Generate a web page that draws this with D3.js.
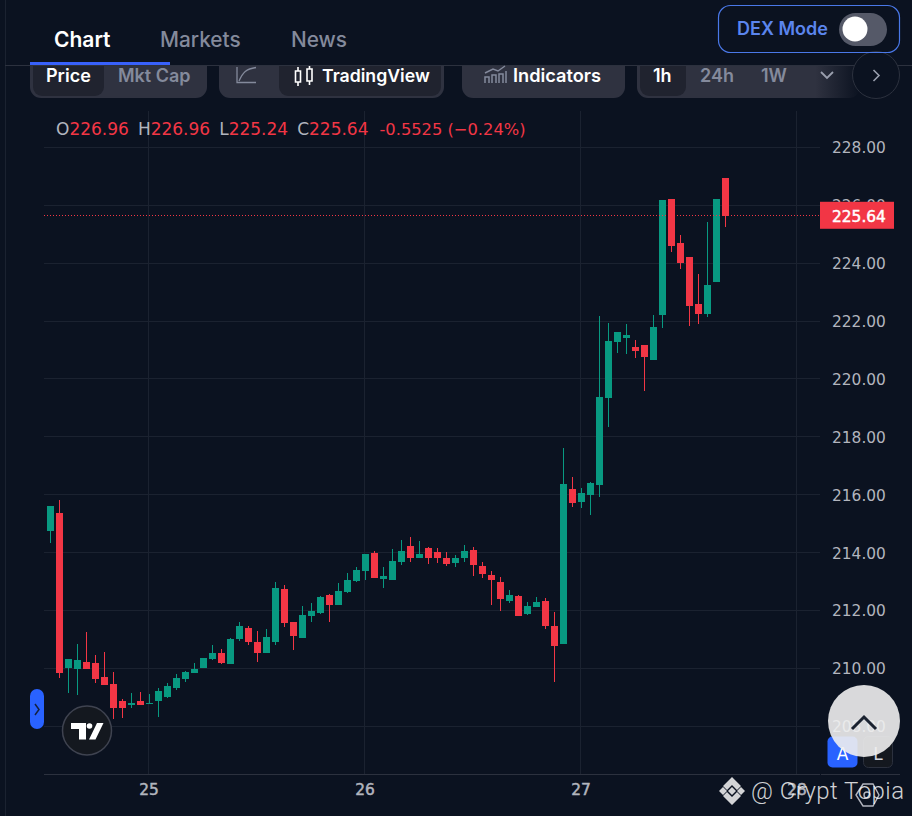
<!DOCTYPE html>
<html>
<head>
<meta charset="utf-8">
<script src="https://cdnjs.cloudflare.com/ajax/libs/d3/7.8.5/d3.min.js"></script>
<style>
  html, body { margin: 0; padding: 0; background: #0b1220; overflow: hidden; }
  svg { display: block; }
  .ui { font-family: Inter, sans-serif; }
  .axis-text { font-family: "DejaVu Sans", sans-serif; font-size: 15.4px; fill: #b2b5be; }
</style>
</head>
<body>
<div id="chart"></div>
<script>
// hourly candles
const opens = [214.74,215.37,210.01,209.97,210.22,210.18,209.70,209.46,208.87,208.73,208.87,208.78,208.87,209.01,209.32,209.63,209.84,210.01,210.32,210.53,210.15,211.01,211.39,210.91,210.53,210.91,212.74,211.60,211.05,211.81,211.91,212.53,212.19,212.64,213.02,213.36,213.98,213.09,213.05,213.67,214.23,213.81,214.16,214.02,213.81,213.64,213.81,214.09,213.53,213.22,212.98,212.32,212.50,211.88,212.12,212.32,211.46,210.84,216.20,215.75,215.99,216.33,219.34,221.28,221.42,221.10,221.17,220.65,222.21,226.22,224.70,224.22,222.59,222.24,223.35,226.96]
const highs = [215.61,215.82,210.32,210.84,211.25,210.46,210.56,209.87,208.94,209.15,209.18,209.11,209.32,209.49,209.80,209.91,210.18,210.35,210.80,210.67,211.05,211.60,211.46,211.29,211.36,212.98,212.88,211.60,212.15,212.26,212.50,212.57,212.95,213.29,213.50,213.95,214.05,213.50,214.12,214.43,214.54,214.40,214.19,214.16,214.02,213.91,214.26,214.19,213.67,213.36,213.15,212.70,212.53,212.29,212.46,212.43,211.94,217.61,216.61,216.23,216.44,222.18,221.93,221.62,221.90,221.35,221.17,222.21,226.19,226.22,224.98,224.22,223.63,225.43,226.22,226.96]
const lows = [214.34,209.66,209.14,209.08,209.97,209.49,209.42,208.25,208.28,208.63,208.73,208.78,208.32,208.97,209.25,209.52,209.84,210.01,210.29,210.15,210.15,210.94,210.80,210.22,210.53,210.80,211.43,210.63,211.05,211.60,211.88,211.60,212.19,212.60,212.98,213.05,213.12,212.77,213.05,213.57,213.67,213.81,213.60,213.64,213.53,213.50,213.67,213.19,213.12,212.19,211.98,212.26,211.81,211.84,212.12,211.36,209.52,210.84,215.57,215.54,215.30,215.92,218.34,220.90,220.86,220.72,219.58,220.65,221.76,224.39,223.80,221.83,221.90,222.14,223.35,225.24]
const closes = [215.61,209.84,210.32,210.29,209.97,209.63,209.42,208.63,208.63,208.80,208.73,208.80,209.21,209.39,209.66,209.87,209.97,210.35,210.53,210.18,211.01,211.46,210.91,210.53,211.08,212.77,211.56,211.11,211.84,211.98,212.46,212.19,212.67,213.05,213.40,213.95,213.12,213.19,213.71,214.05,213.81,213.95,213.81,213.81,213.60,213.81,214.05,213.57,213.26,213.05,212.39,212.53,211.81,212.15,212.29,211.46,210.77,216.37,215.71,216.06,216.40,219.38,221.31,221.62,221.52,220.97,220.76,221.80,226.19,224.60,224.01,222.52,222.24,223.25,226.22,225.64]
const priceTicks = [208,210,212,214,216,218,220,222,224,226,228]
const dayIndexes = [11,35,59,83]
const dayLabels = ['25','26','27','28']
const lastPrice = 225.64
const ohlcLabels = ['O','H','L','C']
const ohlcValues = ['226.96','226.96','225.24','225.64']
const changeText = '-0.5525 (\u22120.24%)'

const UP = '#089981'
const DOWN = '#f23645'
const GRID = '#1b2230'
const BG = '#0b1220'
const BTN = '#2f3240'
const BTN_ON = '#20232f'

const WIDTH = 912
const HEIGHT = 816
const pane = { left: 44, right: 820, top: 111, bottom: 774 }

const x = d3.scaleLinear().domain([0, 83]).range([50.5, 797.5])
const y = d3.scaleLinear().domain([210, 228]).range([668.3, 147.5])
const crisp = v => Math.floor(v) + 0.5

const svg = d3.select('#chart').append('svg')
  .attr('width', WIDTH)
  .attr('height', HEIGHT)

svg.append('rect').attr('width', WIDTH).attr('height', HEIGHT).attr('fill', BG)

// far left page rule
svg.append('line')
  .attr('x1', 5.5).attr('x2', 5.5).attr('y1', 0).attr('y2', HEIGHT)
  .attr('stroke', '#1b2230')

// grid
svg.append('g').selectAll('line').data(priceTicks).join('line')
  .attr('x1', pane.left).attr('x2', pane.right)
  .attr('y1', d => crisp(y(d))).attr('y2', d => crisp(y(d)))
  .attr('stroke', GRID)

svg.append('g').selectAll('line').data(dayIndexes).join('line')
  .attr('x1', d => x(d) - 1).attr('x2', d => x(d) - 1)
  .attr('y1', pane.top).attr('y2', pane.bottom)
  .attr('stroke', GRID)

// candles
const candles = svg.append('g').selectAll('g').data(d3.range(opens.length)).join('g')
  .attr('fill', i => closes[i] >= opens[i] ? UP : DOWN)

candles.append('rect')
  .attr('x', i => x(i) - 0.5)
  .attr('width', 1)
  .attr('y', i => Math.round(y(highs[i])))
  .attr('height', i => Math.max(1, Math.round(y(lows[i])) - Math.round(y(highs[i]))))

candles.append('rect')
  .attr('x', i => x(i) - 3.5)
  .attr('width', 7)
  .attr('y', i => Math.round(y(Math.max(opens[i], closes[i]))))
  .attr('height', i => Math.max(1, Math.round(y(Math.min(opens[i], closes[i]))) - Math.round(y(Math.max(opens[i], closes[i])))))

// last price line
svg.append('line')
  .attr('x1', pane.left).attr('x2', pane.right)
  .attr('y1', crisp(y(lastPrice))).attr('y2', crisp(y(lastPrice)))
  .attr('stroke', DOWN)
  .attr('stroke-dasharray', '1 2')

// price axis
const yAxis = svg.append('g')
  .attr('transform', `translate(${pane.right},0.5)`)
  .call(d3.axisRight(y).tickValues(priceTicks).tickFormat(d3.format('.2f')).tickSize(0).tickPadding(12))
yAxis.select('.domain').remove()
yAxis.selectAll('text').attr('class', 'axis-text').attr('fill', null).attr('font-family', null).attr('font-size', null)

// bottom axis rule and day labels
const xAxis = svg.append('g')
  .attr('transform', `translate(0,${pane.bottom})`)
  .call(d3.axisBottom(x).tickValues(dayIndexes).tickFormat((d, i) => dayLabels[i]).tickSize(0).tickPadding(10))
xAxis.select('.domain').remove()
xAxis.selectAll('text')
  .attr('class', 'axis-text')
  .attr('fill', null).attr('font-family', null).attr('font-size', null)
  .style('font-size', '15.4px')
  .style('stroke', '#b2b5be')
  .style('stroke-width', 0.5)
  .attr('dx', -1)

svg.append('line').attr('x1', pane.left).attr('x2', pane.right).attr('y1', 774.5).attr('y2', 774.5).attr('stroke', '#2c313e')
svg.append('line').attr('x1', pane.right + 1).attr('x2', 900).attr('y1', 774.5).attr('y2', 774.5).attr('stroke', '#2c313e')

// last price tag
svg.append('rect')
  .attr('x', pane.right).attr('width', 74)
  .attr('y', y(lastPrice) - 14).attr('height', 27)
  .attr('fill', DOWN)
svg.append('text')
  .attr('class', 'axis-text')
  .attr('x', pane.right + 12).attr('y', y(lastPrice) + 6)
  .style('fill', '#fff')
  .style('stroke', '#fff')
  .style('stroke-width', 0.5)
  .text(d3.format('.2f')(lastPrice))

// OHLC legend
const legend = svg.append('text')
  .attr('class', 'axis-text')
  .attr('x', 56).attr('y', 135)
  .style('font-size', '17px')
ohlcLabels.forEach((label, i) => {
  legend.append('tspan').style('fill', '#b2b5be').attr('dx', i ? 9 : 0).text(label)
  legend.append('tspan').style('fill', DOWN).text(ohlcValues[i])
})
legend.append('tspan').style('fill', DOWN).style('font-size', '16.3px').attr('dx', 11).text(changeText)

// tool bar
const bar = svg.append('g').attr('class', 'ui')
const pill = (px, pw, fill, clipTop = 40, bottom = 98, r = 11) =>
  bar.append('rect').attr('x', px).attr('y', clipTop).attr('width', pw).attr('height', bottom - clipTop).attr('rx', r).attr('fill', fill)
const label = (tx, ty, text, fill, size = 18, weight = 600) =>
  bar.append('text').attr('x', tx).attr('y', ty).attr('fill', fill).attr('font-size', size).attr('font-weight', weight).text(text)

pill(30, 177, BTN)
pill(33, 71, BTN_ON, 40, 96, 9)
pill(219, 225, BTN)
pill(279, 162, BTN_ON, 40, 96, 9)
pill(462, 163, BTN)

const fade = svg.append('defs').append('linearGradient').attr('id', 'fade')
fade.append('stop').attr('offset', '0.8').attr('stop-color', BTN)
fade.append('stop').attr('offset', '1').attr('stop-color', BTN).attr('stop-opacity', 0)
pill(637, 223, 'url(#fade)')
pill(640, 46, BTN_ON, 40, 96, 9)

bar.append('rect').attr('x', 0).attr('y', 0).attr('width', WIDTH).attr('height', 65).attr('fill', BG)
bar.append('line').attr('x1', 5).attr('x2', WIDTH).attr('y1', 65.5).attr('y2', 65.5).attr('stroke', '#2c313e')
bar.append('line').attr('x1', 5.5).attr('x2', 5.5).attr('y1', 0).attr('y2', 65).attr('stroke', '#1b2230')
bar.append('rect').attr('x', 30).attr('y', 62).attr('width', 140).attr('height', 3).attr('fill', '#3861fb')

label(54, 47, 'Chart', '#ffffff', 21, 600)
label(160, 47, 'Markets', '#848a9c', 20.8, 500)
label(291, 47, 'News', '#848a9c', 20.8, 500)

label(46, 82, 'Price', '#ffffff')
label(118, 82, 'Mkt Cap', '#848a9c')
label(322, 82, 'TradingView', '#ffffff', 17.7)
label(513, 82, 'Indicators', '#ffffff', 18.2)
label(653, 82, '1h', '#ffffff')
label(700, 82, '24h', '#848a9c')
label(761, 82, '1W', '#848a9c')

// line icon
bar.append('path').attr('d', 'M237 67V82.5H256M239 81C243 72 246 69 256 67.5').attr('fill', 'none').attr('stroke', '#848a9c').attr('stroke-width', 1.3)
// candle icon
bar.append('path').attr('d', 'M295.500 71h5v11h-5zM298 67v4M298 82v4M307 69h5v12h-5zM309.500 66v3M309.500 81v4').attr('fill', 'none').attr('stroke', '#fff').attr('stroke-width', 1.6)
// indicators icon
bar.append('path').attr('d', 'M485 83v-6h4v6M492 83v-8h4v8M499 83v-9h4v9M506 83v-12h-0M485 73L493 69L498 71L505 66').attr('fill', 'none').attr('stroke', '#848a9c').attr('stroke-width', 1.5)
// chevrons
bar.append('path').attr('d', 'M821 72L827 78L833 72').attr('fill', 'none').attr('stroke', '#9a9fae').attr('stroke-width', 1.8)
bar.append('circle').attr('cx', 876).attr('cy', 75).attr('r', 23.5).attr('fill', BG).attr('stroke', '#2c313e')
bar.append('path').attr('d', 'M873.5 70L879 75.5L873.5 81').attr('fill', 'none').attr('stroke', '#9a9fae').attr('stroke-width', 1.6)

// DEX mode switch
bar.append('rect').attr('x', 718.5).attr('y', 5.5).attr('width', 181).attr('height', 47).attr('rx', 12).attr('fill', 'none').attr('stroke', '#4a78e8').attr('stroke-width', 1.2)
label(737, 35, 'DEX Mode', '#5b85ee', 18, 600)
bar.append('rect').attr('x', 839).attr('y', 13).attr('width', 48).attr('height', 33).attr('rx', 16.5).attr('fill', '#555968')
bar.append('circle').attr('cx', 855).attr('cy', 29).attr('r', 12.5).attr('fill', '#ffffff')

// side handle
svg.append('rect').attr('x', 30).attr('y', 689).attr('width', 14).attr('height', 40).attr('rx', 7).attr('fill', '#2962ff')
svg.append('path').attr('d', 'M35 704L39 709.5L35 715').attr('fill', 'none').attr('stroke', '#14213f').attr('stroke-width', 1.5)

// tv logo
svg.append('circle').attr('cx', 87).attr('cy', 730.5).attr('r', 24.5).attr('fill', '#14181f').attr('stroke', '#3f4350').attr('stroke-width', 1.5)
svg.append('path').attr('d', 'M71 723H86V739.5H79V729H71ZM89 739.5L97 723H103.500L95.500 739.5Z').attr('fill', '#fff')
svg.append('circle').attr('cx', 89.500).attr('cy', 726).attr('r', 2.800).attr('fill', '#fff')

// A / L buttons
svg.append('rect').attr('x', 827.5).attr('y', 736.5).attr('width', 30).attr('height', 31).attr('rx', 5).attr('fill', '#2962ff')
svg.append('rect').attr('x', 863.5).attr('y', 736.5).attr('width', 29).attr('height', 31).attr('rx', 5).attr('fill', '#14181f').attr('stroke', '#2c313e')
svg.append('text').attr('class', 'axis-text').attr('x', 842.5).attr('y', 760).attr('text-anchor', 'middle').style('fill', '#fff').style('font-size', '17px').text('A')
svg.append('text').attr('class', 'axis-text').attr('x', 878).attr('y', 760).attr('text-anchor', 'middle').style('fill', '#d1d4dc').style('font-size', '17px').text('L')

// scroll-up button sits over the axis
svg.append('circle').attr('cx', 864).attr('cy', 721).attr('r', 36).attr('fill', '#f0f0f0').attr('fill-opacity', 0.9)
svg.append('path').attr('d', 'M852 729L864 717L876 729').attr('fill', 'none').attr('stroke', '#1b2230').attr('stroke-width', 3)

// settings hexagon under the watermark
svg.append('path').attr('d', 'M856 795L863 784H873L879 795L873 806H863Z').attr('fill', 'none').attr('stroke', '#b2b5be').attr('stroke-width', 1.4)
svg.append('circle').attr('cx', 867).attr('cy', 795).attr('r', 3).attr('fill', 'none').attr('stroke', '#b2b5be').attr('stroke-width', 1.4)

// watermark
const mark = svg.append('g').attr('fill', '#ffffff').attr('fill-opacity', 0.82)
mark.append('path').attr('d', 'M732 777L741 786L737 790L732 785L727 790L723 786ZM719 791L723 787L727 791L723 795ZM737 791L741 787L745 791L741 795ZM732 787L736 791L732 795L728 791ZM727 792L732 797L737 792L741 796L732 805L723 796Z')
mark.append('text').attr('x', 751).attr('y', 799).attr('font-family', 'Roboto, sans-serif').attr('font-size', 24).attr('font-weight', 300).attr('letter-spacing', 0.45).text('@ Crypt Topia')
</script>
</body>
</html>
